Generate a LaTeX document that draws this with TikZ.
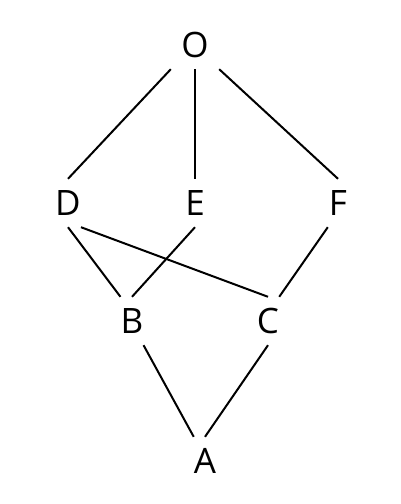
\documentclass[tikz,border=0pt]{standalone}
\usepackage{fontspec}
\setmainfont{Open Sans}
\usepackage{tikz}
\usetikzlibrary{positioning}

\tikzset{
    elem/.style={inner sep=0pt, minimum width=20pt, minimum height=48pt,
        text height=25pt, text depth=0pt, font=\fontsize{35}{42}\selectfont},
    cover/.style={line width=2pt}
}

\begin{document}
\begin{tikzpicture}[x=1pt, y=-1pt]
                \useasboundingbox (0,0) rectangle (400,504);

                \node[elem, minimum width=48pt] (O) at (195, 45) {O};
                \node[elem] (D) at (68, 203) {D};
                \node[elem] (E) at (195, 203) {E};
                \node[elem] (F) at (338, 203) {F};
                \node[elem] (B) at (132, 321) {B};
                \node[elem] (C) at (268, 321) {C};
                \node[elem] (A) at (205, 461) {A};

                \draw[cover] (O.south west) -- (D.north);
                \draw[cover] (O.south) -- (E.north);
                \draw[cover] (O.south east) -- (F.north);
                \draw[cover] (D.south) -- (B.north west);
                \draw[cover] (D.south east) -- (C.north);
                \draw[cover] (E.south) -- (B.north);
                \draw[cover] (F.south west) -- (C.north east);
                \draw[cover] (B.south east) -- (A.north west);
                \draw[cover] (C.south) -- (A.north);
            \end{tikzpicture}
\end{document}
